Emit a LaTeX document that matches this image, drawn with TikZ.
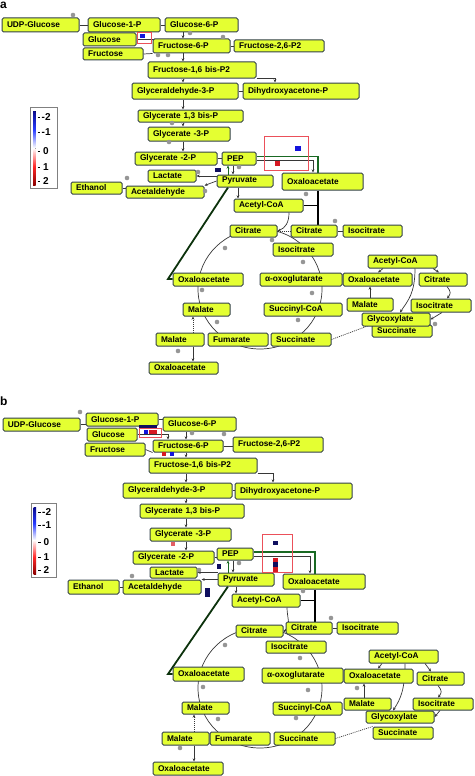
\documentclass[tikz,border=0pt]{standalone}
\usepackage{fontspec}
\setmainfont{Liberation Sans}
\usetikzlibrary{arrows.meta}
\pgfdeclarelayer{bg}
\pgfsetlayers{bg,main}
\definecolor{boxfill}{RGB}{228,255,50}
\definecolor{boxdraw}{RGB}{50,64,76}
\definecolor{linec}{RGB}{55,55,55}
\definecolor{dotc}{RGB}{150,150,150}
\definecolor{grc}{RGB}{25,105,35}
\definecolor{dgc}{RGB}{12,50,12}
\definecolor{redb}{RGB}{235,80,90}
\definecolor{bsqc}{RGB}{20,20,220}
\definecolor{rsqc}{RGB}{215,25,35}
\definecolor{nsqc}{RGB}{15,15,95}
\definecolor{legdb}{RGB}{10,10,140}
\definecolor{legb}{RGB}{40,60,255}
\definecolor{legr}{RGB}{255,40,40}
\definecolor{legdr}{RGB}{140,0,0}
\tikzset{
 met/.style={draw=boxdraw, fill=boxfill, line width=1pt, rounded corners=1.5pt,
   inner xsep=5pt, inner ysep=0pt, font=\fontsize{8.3}{9}\selectfont\bfseries, align=left},
 ln/.style={draw=linec, line width=0.7pt},
 ar/.style={ln, -{Stealth[length=3.2pt,width=2.8pt]}},
 gar/.style={draw=grc, line width=0.8pt, -{Stealth[length=3.2pt,width=2.8pt]}},
 dotar/.style={ar, dash pattern=on 1pt off 1pt},
 dotline/.style={ln, dash pattern=on 1pt off 1pt},
 grn/.style={draw=grc, line width=1.2pt},
 thk/.style={draw=black, line width=1.1pt},
 dg/.style={draw=dgc, line width=1.8pt},
 gdot/.style={fill=dotc},
 redbox/.style={draw=redb, line width=0.8pt},
 bsq/.style={fill=bsqc},
 rsq/.style={fill=rsqc},
 rsql/.style={fill=rsqc!70},
 nsq/.style={fill=nsqc},
 legbox/.style={draw=gray, line width=0.8pt, fill=white},
 legl/.style={anchor=west, inner sep=0pt, font=\fontsize{10}{10}\selectfont\bfseries},
 pl/.style={anchor=west, inner sep=0pt, font=\fontsize{12}{12}\selectfont\bfseries},
}
\newcommand\mb[6]{%
 \pgfmathsetmacro\mbw{#4-#2}\pgfmathsetmacro\mbh{#5-#3}\pgfmathsetmacro\mbt{#4-#2-10}%
 \pgfmathsetmacro\mbx{(#2+#4)/2}\pgfmathsetmacro\mby{(#3+#5)/2}%
 \node[met, minimum width=\mbw pt, minimum height=\mbh pt, text width=\mbt pt] (#1) at (\mbx,\mby) {\mbox{#6}};}
\newcommand\conns[1]{%
 \draw[ln] (udp#1.east) -- (udp#1.east -| g1p#1.west);
 \draw[ln] (g1p#1.east) -- (g1p#1.east -| g6p#1.west);
 \draw[ar] (g6p#1.south -| ta#1) -- (f6p#1.north -| ta#1);
 \draw[ar] (f6p#1.south -| ta#1) -- (f16#1.north -| ta#1);
 \draw[ar] (f16#1.south -| ta#1) -- (ga3p#1.north -| ta#1);
 \draw[ar] (ga3p#1.south -| ta#1) -- (g13#1.north -| ta#1);
 \draw[ar] (g13#1.south -| ta#1) -- (g3p#1.north -| ta#1);
 \draw[ar] (g3p#1.south -| ta#1) -- (g2p#1.north -| ta#1);
 \draw[ln] (f6p#1.east) -- (f6p#1.east -| f26#1.west);
 \draw[ln] (ga3p#1.east) -- (ga3p#1.east -| dhap#1.west);
 \draw[ar] (f16#1.south east) -| (dhap#1.north -| tfa#1);
 \draw[ar] (glc#1.east) -| (f6p#1.north -| tgl#1);
 \draw[ln] (fru#1.east) -- (f6p#1.south west);
 \draw[ln] (g2p#1.east) -- (g2p#1.east -| pep#1.west);
 \draw[gar] (pyr#1.north -| tpa#1) -- (pep#1.south -| tpa#1);
 \draw[ar] (pep#1.south -| tpb#1) -- (pyr#1.north -| tpb#1);
 \draw[ar] (pyr#1.south -| tpc#1) -- (acoa#1.north -| tpc#1);
 \draw[ar] (lac#1.east -| pyr#1.west) -- (lac#1.east);
 \draw[ar] (pyr#1.west) -- (acet#1.north east);
 \draw[ln] (eth#1.east) -- (eth#1.east -| acet#1.west);
 \draw[ar] ([yshift=-2pt]pep#1.east) -| (oxa1#1.north -| tq#1);
 \draw[grn] ([yshift=2pt]pep#1.east) -| (oxa1#1.north -| tr#1);
 \draw[thk] (oxa1#1.south -| tr#1) -- (cit2#1.north -| tr#1);
 \draw[thk] (acoa#1.east) -- (acoa#1.east -| tr#1);
 \draw[ar] (acoa#1.south -| tac#1) .. controls +(0,10) and +(8,-3) .. (cit1#1.east);
 \draw[dotline] (cit1#1.east) -- (cit1#1.east -| cit2#1.west);
 \draw[ln] (cit2#1.east) -- (cit2#1.east -| icit1#1.west);
 \draw[ln] (cc#1) ellipse [x radius=62, y radius=60];
 \draw[dg] (pyr#1.south -| tpa#1) -- (tg#1) -- (tg#1 -| oxa2#1.west);
 \draw[dotar] (mal2#1.north -| tm#1) -- (mal1#1.south -| tm#1);
 \draw[ar] (mal2#1.south -| tm#1) -- (oxa4#1.north -| tm#1);
 \draw[ar] (mal3#1.north -| ts#1) -- (oxa3#1.south -| ts#1);
 \draw[ar] (acoa2#1.south -| tu#1) -- (oxa3#1.north -| tv#1);
 \draw[ar] (acoa2#1.south -| tcs#1) -- (cit3#1.north -| tce#1);
 \draw[ar] (cit3#1.south -| tw#1) .. controls +(4,5) and +(4,-5) .. (icit3#1.north -| tw#1);
 \draw[ar] (icit3#1.south -| tx#1) -- (glyc#1.east);
 \draw[ar] (acoa2#1.south -| ty#1) .. controls +(0,25) and +(8,-12) .. (glyc#1.north -| tz#1);
 \draw[dotline] (succ1#1.east) -- (succ2#1.north west);
}
\begin{document}
\begin{tikzpicture}[x=1pt,y=-1pt]
\useasboundingbox (0,0) rectangle (474,776);
% ---------------- panel a ----------------
\node[pl] (labela) at (0,5) {a};
\mb{udpa}{2}{18}{79}{32}{UDP-Glucose}
\mb{g1pa}{88}{18}{160}{32}{Glucose-1-P}
\mb{g6pa}{165}{18}{238}{32}{Glucose-6-P}
\mb{glca}{83}{33}{136}{46}{Glucose}
\mb{frua}{83}{48}{143}{60}{Fructose}
\mb{f6pa}{153}{39}{230}{53}{Fructose-6-P}
\mb{f26a}{234}{40}{324}{52}{Fructose-2,6-P2}
\mb{f16a}{148}{62}{256}{78}{Fructose-1,6 bis-P2}
\mb{ga3pa}{132}{83}{238}{99}{Glyceraldehyde-3-P}
\mb{dhapa}{243}{83}{359}{99}{Dihydroxyacetone-P}
\mb{g13a}{138}{110}{243}{122}{Glycerate 1,3 bis-P}
\mb{g3pa}{148}{127}{230}{141}{Glycerate -3-P}
\mb{g2pa}{135}{152}{217}{165}{Glycerate -2-P}
\mb{pepa}{222}{152}{256}{165}{PEP}
\mb{laca}{148}{170}{196}{182}{Lactate}
\mb{etha}{71}{182}{122}{194}{Ethanol}
\mb{aceta}{126}{186}{204}{198}{Acetaldehyde}
\mb{pyra}{217}{175}{273}{187}{Pyruvate}
\mb{oxa1a}{282}{173}{363}{190}{Oxaloacetate}
\mb{acoaa}{234}{199}{303}{212}{Acetyl-CoA}
\mb{cit1a}{230}{225}{277}{237}{Citrate}
\mb{cit2a}{291}{225}{337}{237}{Citrate}
\mb{icit1a}{343}{225}{402}{237}{Isocitrate}
\mb{icit2a}{273}{243}{333}{256}{Isocitrate}
\mb{oxa2a}{173}{273}{243}{286}{Oxaloacetate}
\mb{akga}{260}{273}{342}{286}{α-oxoglutarate}
\mb{oxa3a}{343}{273}{412}{286}{Oxaloacetate}
\mb{acoa2a}{368}{255}{437}{268}{Acetyl-CoA}
\mb{cit3a}{419}{273}{467}{286}{Citrate}
\mb{mal3a}{347}{298}{393}{311}{Malate}
\mb{icit3a}{411}{299}{471}{312}{Isocitrate}
\mb{sucoaa}{264}{303}{342}{316}{Succinyl-CoA}
\mb{succ2a}{372}{325}{432}{337}{Succinate}
\mb{glyca}{362}{313}{430}{326}{Glycoxylate}
\mb{succ1a}{271}{333}{331}{346}{Succinate}
\mb{fuma}{208}{333}{268}{346}{Fumarate}
\mb{mal1a}{183}{303}{230}{316}{Malate}
\mb{mal2a}{156}{333}{204}{346}{Malate}
\mb{oxa4a}{149}{362}{218}{374}{Oxaloacetate}
\coordinate (taa) at (183,0); \coordinate (tgla) at (168,0); \coordinate (tfaa) at (275,0);
\coordinate (tpaa) at (228,0); \coordinate (tpba) at (233,0); \coordinate (tpca) at (238,0);
\coordinate (tqa) at (313,0); \coordinate (tra) at (318,0); \coordinate (taca) at (289,0);
\coordinate (tma) at (193,0); \coordinate (tsa) at (370,0); \coordinate (tua) at (383,0);
\coordinate (tva) at (378,0); \coordinate (tcsa) at (433,0); \coordinate (tcea) at (439,0);
\coordinate (twa) at (447,0); \coordinate (txa) at (442,0); \coordinate (tya) at (415,0);
\coordinate (tza) at (400,0); \coordinate (tga) at (168,279); \coordinate (cca) at (260,289);
\begin{pgfonlayer}{bg}\conns{a}\end{pgfonlayer}
\foreach \p in {(73,15),(190,33),(223,37),(158,55),(168,55),(172,123),(169,142),(127,178),(198,172),(205,191),(239,167),(306,194),(335,221),(272,240),(225,248),(303,262),(312,293),(298,320),(435,324),(202,290),(217,322),(178,351)}
  \fill[gdot] \p circle (2.3);
\draw[redbox] (137,32) rectangle (151,43);
\fill[bsq] (140,34) rectangle (145,38);
\draw[redbox] (264,136) rectangle (308,170);
\fill[bsq] (295,146) rectangle (301,151);
\fill[rsq] (275,161) rectangle (280,166);
\fill[nsq] (215,168) rectangle (221,172);
% legend a
\draw[legbox] (30,107) rectangle (57,188);
\fill[top color=legdb, bottom color=white, middle color=legb] (33,111) rectangle (35.5,148);
\fill[top color=white, bottom color=legdr, middle color=legr] (33,148) rectangle (35.5,185);
\foreach \yy in {117,132,151,167,181} \draw[black, line width=0.7pt] (37.5,\yy) -- (40,\yy);
\node[legl] (la1) at (41.5,117) {-2};
\node[legl] (la2) at (41.5,132) {-1};
\node[legl] (la3) at (43,151) {0};
\node[legl] (la4) at (43,167) {1};
\node[legl] (la5) at (43,181) {2};
% ---------------- panel b ----------------
\node[pl] (labelb) at (0,401) {b};
\mb{udpb}{3}{418}{80}{431}{UDP-Glucose}
\mb{g1pb}{86}{413}{158}{426}{Glucose-1-P}
\mb{g6pb}{163}{417}{236}{431}{Glucose-6-P}
\mb{glcb}{87}{428}{137}{441}{Glucose}
\mb{frub}{85}{443}{145}{456}{Fructose}
\mb{f6pb}{153}{440}{223}{452}{Fructose-6-P}
\mb{f26b}{233}{437}{323}{452}{Fructose-2,6-P2}
\mb{f16b}{149}{458}{257}{473}{Fructose-1,6 bis-P2}
\mb{ga3pb}{123}{483}{232}{498}{Glyceraldehyde-3-P}
\mb{dhapb}{235}{483}{352}{499}{Dihydroxyacetone-P}
\mb{g13b}{140}{504}{244}{518}{Glycerate 1,3 bis-P}
\mb{g3pb}{150}{528}{231}{541}{Glycerate -3-P}
\mb{g2pb}{133}{551}{214}{564}{Glycerate -2-P}
\mb{pepb}{217}{548}{253}{560}{PEP}
\mb{lacb}{150}{567}{197}{578}{Lactate}
\mb{ethb}{68}{580}{119}{594}{Ethanol}
\mb{acetb}{123}{580}{201}{594}{Acetaldehyde}
\mb{pyrb}{218}{573}{274}{586}{Pyruvate}
\mb{oxa1b}{283}{574}{365}{589}{Oxaloacetate}
\mb{acoab}{232}{594}{300}{607}{Acetyl-CoA}
\mb{cit1b}{236}{625}{283}{637}{Citrate}
\mb{cit2b}{286}{622}{332}{634}{Citrate}
\mb{icit1b}{337}{622}{398}{634}{Isocitrate}
\mb{icit2b}{266}{641}{326}{653}{Isocitrate}
\mb{oxa2b}{173}{667}{244}{681}{Oxaloacetate}
\mb{akgb}{262}{668}{343}{683}{α-oxoglutarate}
\mb{oxa3b}{344}{669}{413}{683}{Oxaloacetate}
\mb{acoa2b}{369}{650}{438}{663}{Acetyl-CoA}
\mb{cit3b}{417}{672}{464}{685}{Citrate}
\mb{mal3b}{344}{698}{391}{710}{Malate}
\mb{icit3b}{413}{698}{473}{710}{Isocitrate}
\mb{sucoab}{273}{702}{342}{715}{Succinyl-CoA}
\mb{succ2b}{373}{727}{433}{739}{Succinate}
\mb{glycb}{366}{711}{434}{723}{Glycoxylate}
\mb{succ1b}{274}{732}{335}{745}{Succinate}
\mb{fumb}{210}{732}{270}{745}{Fumarate}
\mb{mal1b}{182}{702}{229}{714}{Malate}
\mb{mal2b}{162}{732}{209}{745}{Malate}
\mb{oxa4b}{153}{762}{223}{775}{Oxaloacetate}
\coordinate (tab) at (186,0); \coordinate (tglb) at (168,0); \coordinate (tfab) at (273,0);
\coordinate (tpab) at (228,0); \coordinate (tpbb) at (233,0); \coordinate (tpcb) at (236,0);
\coordinate (tqb) at (310,0); \coordinate (trb) at (315,0); \coordinate (tacb) at (287,0);
\coordinate (tmb) at (194,0); \coordinate (tsb) at (364,0); \coordinate (tub) at (382,0);
\coordinate (tvb) at (378,0); \coordinate (tcsb) at (425,0); \coordinate (tceb) at (431,0);
\coordinate (twb) at (438,0); \coordinate (txb) at (440,0); \coordinate (tyb) at (405,0);
\coordinate (tzb) at (393,0); \coordinate (tgb) at (168,674); \coordinate (ccb) at (260,688);
\begin{pgfonlayer}{bg}\conns{b}\end{pgfonlayer}
\foreach \p in {(80,412),(192,433),(224,434),(239,563),(303,591),(331,618),(132,576),(199,570),(225,645),(300,658),(308,690),(296,718),(357,688),(203,687),(218,719),(180,748)}
  \fill[gdot] \p circle (2.3);
\fill[nsq] (139,425) rectangle (157,428);
\draw[redbox] (139,428) rectangle (161,437);
\fill[bsq] (144,430) rectangle (148,434);
\fill[rsq] (149,430) rectangle (157,434);
\fill[rsq] (162,452) rectangle (166,456);
\fill[bsq] (170,452) rectangle (174,456);
\fill[rsql] (171,542) rectangle (175,546);
\draw[redbox] (262,534) rectangle (292,572);
\fill[nsq] (273,541) rectangle (278,545);
\fill[rsq] (273,558) rectangle (278,572);
\fill[nsq] (273,562) rectangle (278,567);
\fill[nsq] (217,564) rectangle (221,569);
\fill[nsq] (205,588) rectangle (210,597);
% legend b
\draw[legbox] (31,503) rectangle (56,577);
\fill[top color=legdb, bottom color=white, middle color=legb] (33.5,507) rectangle (36,540);
\fill[top color=white, bottom color=legdr, middle color=legr] (33.5,540) rectangle (36,574);
\foreach \yy in {512,525,542,557,570} \draw[black, line width=0.7pt] (38,\yy) -- (40.5,\yy);
\node[legl] (lb1) at (42,512) {-2};
\node[legl] (lb2) at (42,525) {-1};
\node[legl] (lb3) at (43.5,542) {0};
\node[legl] (lb4) at (43.5,557) {1};
\node[legl] (lb5) at (43.5,570) {2};
\end{tikzpicture}
\end{document}
